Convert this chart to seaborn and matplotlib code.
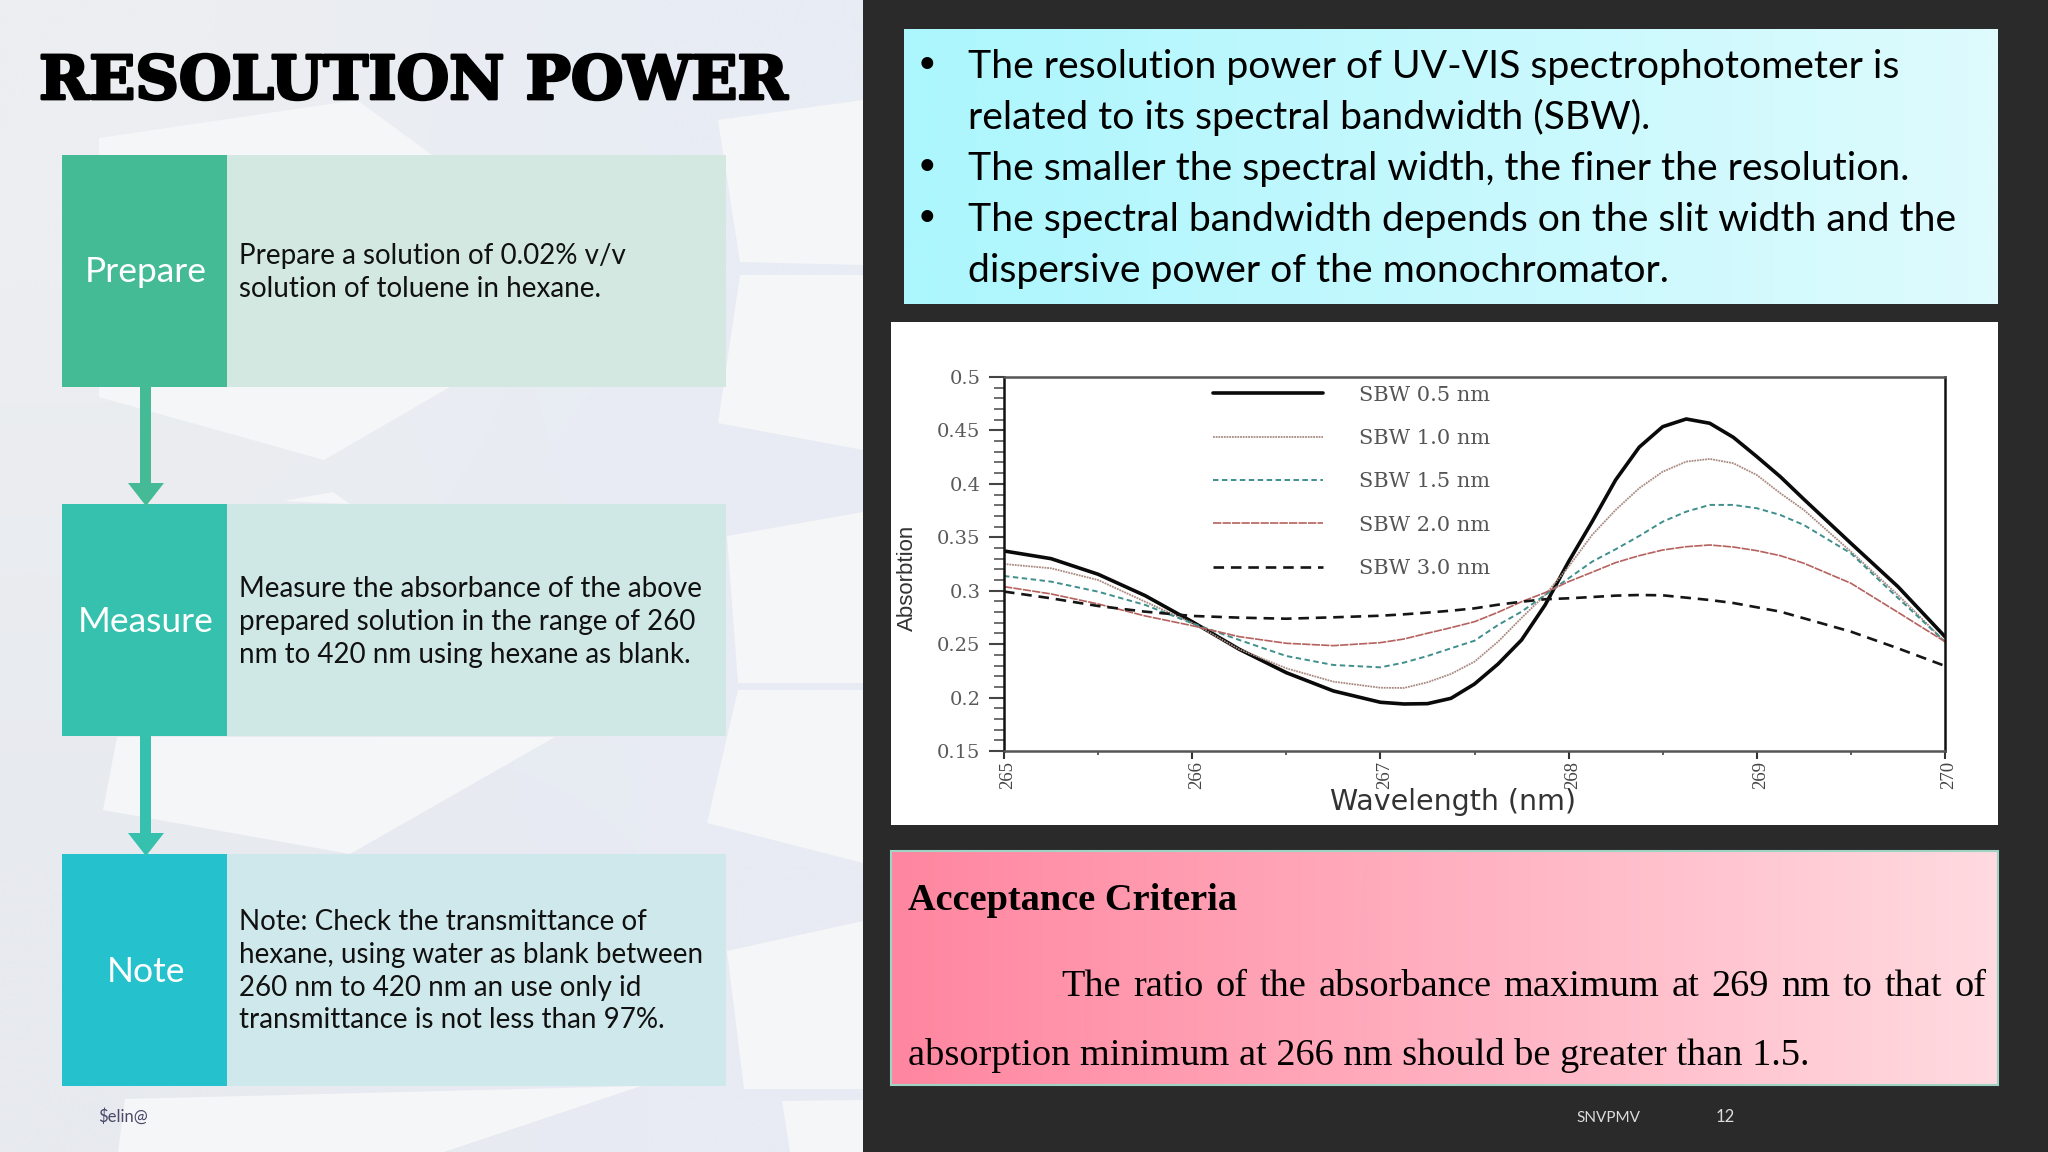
import numpy as np
import pandas as pd
import seaborn as sns
import matplotlib.pyplot as plt
import matplotlib.patheffects as pe
from matplotlib.patches import Polygon, Rectangle
from matplotlib.ticker import MultipleLocator, FixedLocator, FixedFormatter
from matplotlib.transforms import ScaledTranslation

# datos
wavelength = [265, 265.25, 265.5, 265.75, 266, 266.25, 266.5, 266.75,
              267, 267.125, 267.25, 267.375, 267.5, 267.625, 267.75, 267.875,
              268, 268.125, 268.25, 268.375, 268.5, 268.625, 268.75, 268.875,
              269, 269.125, 269.25, 269.5, 269.75, 270]
sbw_05 = [.3372, .330, .3154, .2954, .271, .2452, .2233, .2062,
          .1956, .194, .1943, .1993, .2127, .2314, .2539, .2866,
          .3272, .3646, .4037, .4343, .4535, .4607, .4567, .4436,
          .4255, .4067, .3856, .3444, .3038, .257]
sbw_10 = [.325, .321, .310, .2897, .2698, .2452, .2274, .2149,
          .2092, .209, .2143, .2221, .2336, .2523, .2745, .296,
          .3225, .3522, .3756, .3959, .4114, .4208, .4233, .4193,
          .4083, .3912, .3756, .3366, .296, .2523]
sbw_15 = [.3138, .3085, .2991, .2867, .2695, .2539, .2389, .2305,
          .2283, .2327, .2389, .2461, .2532, .2679, .2804, .296,
          .3116, .3272, .3388, .3512, .3646, .374, .3803, .3803,
          .3772, .3709, .3615, .335, .2932, .2523]
sbw_20 = [.3038, .297, .2876, .2764, .2673, .257, .2508, .2486,
          .2514, .2548, .2602, .2654, .271, .2798, .2897, .2982,
          .3085, .3173, .3263, .3328, .3381, .3412, .3428, .3409,
          .3375, .3328, .3257, .307, .2798, .2523]
sbw_30 = [.2992, .2929, .2857, .2804, .2764, .2748, .2738, .2751,
          .2766, .2779, .2795, .2813, .2835, .2869, .2897, .292,
          .2929, .2941, .2954, .296, .2957, .2935, .2913, .2885,
          .2845, .2804, .2742, .2617, .2461, .2296]

series_names = ["SBW 0.5 nm", "SBW 1.0 nm", "SBW 1.5 nm", "SBW 2.0 nm", "SBW 3.0 nm"]
x_ticks = [265, 266, 267, 268, 269, 270]
y_ticks = [0.15, 0.2, 0.25, 0.3, 0.35, 0.4, 0.45, 0.5]
y_tick_labels = ["0.15", "0.2", "0.25", "0.3", "0.35", "0.4", "0.45", "0.5"]

bullets = ["The resolution power of UV-VIS spectrophotometer is",
           "related to its spectral bandwidth (SBW).",
           "The smaller the spectral width, the finer the resolution.",
           "The spectral bandwidth depends on the slit width and the",
           "dispersive power of the monochromator."]
steps = ["Prepare", "Measure", "Note"]
step_text = [["Prepare a solution of 0.02% v/v", "solution of toluene in hexane."],
             ["Measure the absorbance of the above", "prepared solution in the range of 260",
              "nm to 420 nm using hexane as blank."],
             ["Note: Check the transmittance of", "hexane, using water as blank between",
              "260 nm to 420 nm an use only id", "transmittance is not less than 97%."]]

sns.set_theme(style="white")
plt.rcParams['font.family'] = ['Lato', 'DejaVu Sans']

W, H = 2048, 1152
fig = plt.figure(figsize=(W / 100, H / 100), dpi=100)

# capa de fondo en pixeles
bg = fig.add_axes([0, 0, 1, 1])
bg.set_xlim(0, W)
bg.set_ylim(H, 0)
bg.axis("off")


def gradient(ax, x0, x1, y0, y1, c0, c1):
    t = np.linspace(0, 1, 64)[:, None]
    img = ((1 - t) * np.array(c0) + t * np.array(c1))[None, :, :] / 255
    ax.imshow(img, extent=(x0, x1, y1, y0), aspect="auto", interpolation="bilinear", zorder=3)


def justified(ax, x0, x1, y, line, **kw):
    # reparte las palabras entre x0 y x1
    words = line.split()
    rend = fig.canvas.get_renderer()
    items = [ax.text(0, y, w, **kw) for w in words]
    widths = [t.get_window_extent(rend).width for t in items]
    gap = (x1 - x0 - sum(widths)) / (len(words) - 1)
    x = x0
    for t, w in zip(items, widths):
        t.set_x(x)
        x += w + gap


# lado izquierdo
bg.imshow(np.array([[[236, 238, 241], [232, 236, 244]],
                    [[231, 234, 239], [232, 235, 243]]]) / 255,
          extent=(0, 863, H, 0), aspect="auto", interpolation="bilinear", zorder=0)
tiles = [[(99, 138), (357, 100), (480, 190), (450, 387), (324, 460), (99, 397)],
         [(718, 120), (863, 100), (863, 265), (740, 262)],
         [(740, 275), (863, 275), (863, 450), (718, 423)],
         [(283, 501), (333, 492), (350, 504)],
         [(117, 737), (555, 737), (350, 854), (103, 810)],
         [(727, 536), (863, 512), (863, 683), (738, 683)],
         [(738, 690), (863, 690), (863, 863), (707, 823)],
         [(727, 951), (863, 921), (863, 1089), (744, 1089)],
         [(125, 1099), (641, 1086), (444, 1152), (118, 1152)],
         [(782, 1101), (863, 1100), (863, 1152), (790, 1152)]]
for pts in tiles:
    bg.add_patch(Polygon(pts, closed=True, fc="#f5f6f8", ec="none", zorder=1))

# lado derecho
bg.add_patch(Rectangle((863, 0), W - 863, H, fc="#2a2a2a", ec="none", zorder=2))
gradient(bg, 904, 1998, 29, 304, (172, 246, 253), (222, 251, 253))
bg.add_patch(Rectangle((891, 322), 1107, 503, fc="white", ec="none", zorder=3))
gradient(bg, 891, 1998, 851, 1085, (255, 134, 160), (255, 218, 224))
bg.add_patch(Rectangle((891, 851), 1107, 234, fc="none", ec="#9fd3c4", lw=1.5, zorder=4))
bg.set_xlim(0, W)
bg.set_ylim(H, 0)

bg.text(39, 99, "RESOLUTION POWER", family="DejaVu Serif", weight="bold", fontsize=43.5, color="black",
        path_effects=[pe.withStroke(linewidth=2, foreground="black")], zorder=5)

# cajas del flujo
box_top = [155, 504, 854]
box_dark = ["#45bb95", "#35c1ae", "#25c1cc"]
box_light = ["#d2e8e0", "#cfe8e6", "#cfe8eb"]
label_base = [282, 632, 982]
text_base = [264, 597, 930]
for i, name in enumerate(steps):
    bg.add_patch(Rectangle((62, box_top[i]), 165, 232, fc=box_dark[i], ec="none", zorder=3))
    bg.add_patch(Rectangle((227, box_top[i]), 499, 232, fc=box_light[i], ec="none", zorder=3))
    bg.text(146, label_base[i], name, color="white", fontsize=25.5, ha="center", zorder=5)
    for j, line in enumerate(step_text[i]):
        bg.text(239, text_base[i] + j * 32.8, line, color="#111111", fontsize=20, zorder=5)

# flechas entre cajas
for i in range(2):
    top = box_top[i] + 232
    tip = box_top[i + 1]
    bg.add_patch(Rectangle((140, top), 11, tip - top - 20, fc=box_dark[i], ec="none", zorder=3))
    bg.add_patch(Polygon([(128, tip - 21), (164, tip - 21), (146, tip + 2)], fc=box_dark[i], ec="none", zorder=3))

# texto derecho
bullet_base = [78, 129, 180, 231, 282]
for y, line in zip(bullet_base, bullets):
    bg.text(968, y, line, color="black", fontsize=28.2, zorder=5)
for y in [bullet_base[0], bullet_base[2], bullet_base[3]]:
    bg.text(927, y - 5, "•", color="black", fontsize=23, ha="center", zorder=5)

serif = dict(family="Liberation Serif", fontsize=27.6, color="black", zorder=5)
bg.text(908, 910, "Acceptance Criteria", weight="bold", **serif)
justified(bg, 1061, 1986, 996, "The ratio of the absorbance maximum at 269 nm to that of", **serif)
bg.text(908, 1065, "absorption minimum at 266 nm should be greater than 1.5.", **serif)

bg.text(98, 1122, r"\$elin@", color="#4a4a68", fontsize=12, zorder=5)
bg.text(1576, 1122, "SNVPMV", color="#dddddd", fontsize=11, zorder=5)
bg.text(1716, 1122, "12", color="#dddddd", fontsize=12, zorder=5)

# grafica
ax = fig.add_axes([1004 / W, 1 - 751 / H, 941 / W, 374 / H], facecolor="white")
values = [sbw_05, sbw_10, sbw_15, sbw_20, sbw_30]
df = pd.concat([pd.DataFrame({"wavelength": wavelength, "absorption": v, "sbw": n})
                for v, n in zip(values, series_names)])
sns.lineplot(data=df, x="wavelength", y="absorption", hue="sbw", style="sbw", size="sbw",
             palette=dict(zip(series_names, ["#0a0a0a", "#a98a80", "#3f8f8c", "#b5625f", "#151515"])),
             sizes=dict(zip(series_names, [2.6, 1.3, 1.4, 1.2, 1.9])),
             dashes=dict(zip(series_names, ["", (1, 0.5), (2.8, 1.8), (5, 0.7), (4, 2.6)])),
             ax=ax)
ax.set_xlim(265, 270)
ax.set_ylim(0.15, 0.5)

for side in ["top", "bottom"]:
    ax.spines[side].set_color("#555555")
    ax.spines[side].set_linewidth(1.8)
for side in ["left", "right"]:
    ax.spines[side].set_color("#111111")
    ax.spines[side].set_linewidth(1.8)
    ax.spines[side].set_visible(True)

ax.yaxis.set_major_locator(FixedLocator(y_ticks))
ax.yaxis.set_major_formatter(FixedFormatter(y_tick_labels))
ax.yaxis.set_minor_locator(MultipleLocator(0.01))
ax.xaxis.set_major_locator(FixedLocator(x_ticks))
ax.xaxis.set_minor_locator(MultipleLocator(0.5))
ax.tick_params(axis="y", which="major", left=True, length=11, width=1.5, color="#444444", pad=6)
ax.tick_params(axis="y", which="minor", left=True, length=7, width=1.2, color="#555555")
ax.tick_params(axis="x", which="major", bottom=True, length=6, width=1.5, color="#333333", pad=1)
ax.tick_params(axis="x", which="minor", bottom=True, length=3, width=1.2, color="#444444")
for lab in ax.get_yticklabels():
    lab.set(family="DejaVu Serif", fontsize=14, color="#5a5a5a")
shift = ScaledTranslation(4 / 100, 0, fig.dpi_scale_trans)
for lab in ax.get_xticklabels():
    lab.set(family="Liberation Serif", fontsize=13.5, color="#444444", rotation=90)
    lab.set_transform(lab.get_transform() + shift)

ax.set_xlabel("")
ax.set_ylabel("")
bg.text(1453, 810, "Wavelength (nm)", family="DejaVu Sans", fontsize=20.5, color="#333333", ha="center", zorder=5)
bg.text(918, 578, "Absorbtion", family="Liberation Sans", fontsize=16, color="#333333", rotation=90,
        ha="right", va="center", zorder=5)

sns.move_legend(ax, "upper left", bbox_to_anchor=(0.222, 0.977), frameon=False, title=None,
                borderpad=0, borderaxespad=0, handlelength=5.3, handletextpad=1.7, labelspacing=1.17,
                prop={"family": "DejaVu Serif", "size": 15})
for t in ax.get_legend().get_texts():
    t.set_color("#555555")

fig.savefig("out.png", dpi=100)
